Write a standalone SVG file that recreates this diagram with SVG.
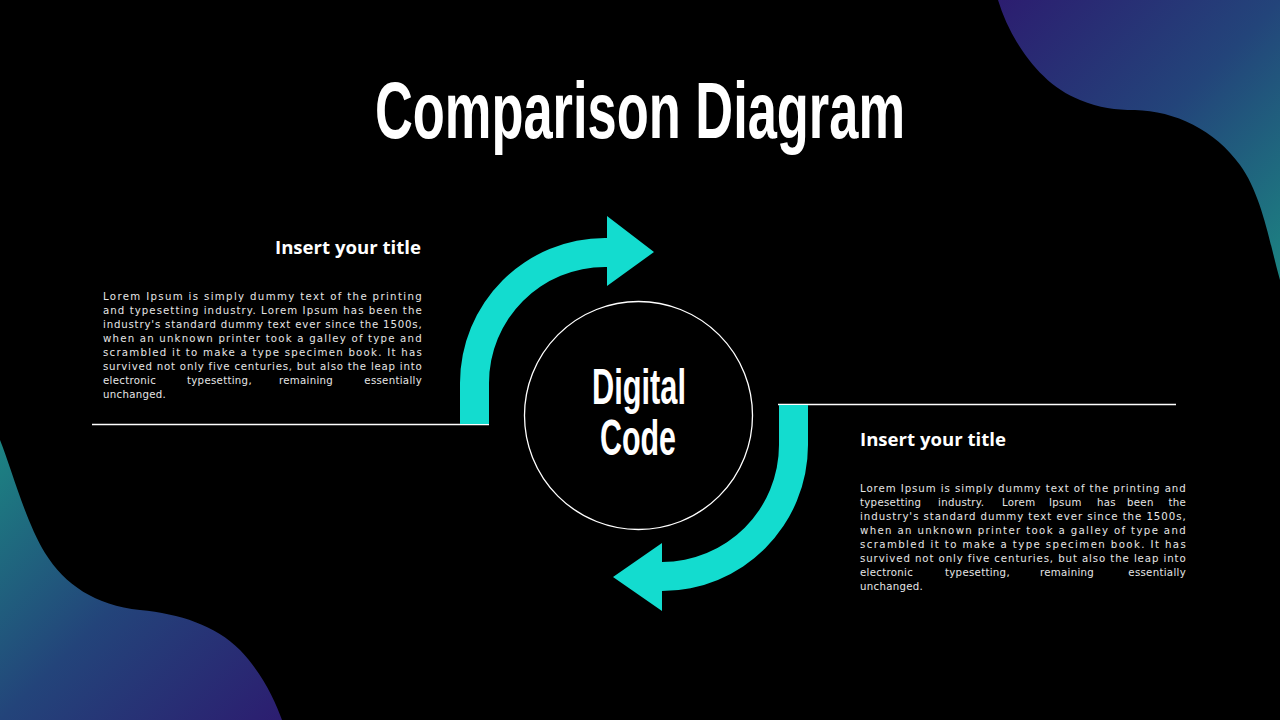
<svg xmlns="http://www.w3.org/2000/svg" width="1280" height="720" viewBox="0 0 1280 720">
  <defs>
    <linearGradient id="gTR" x1="0" y1="0" x2="1" y2="1">
      <stop offset="0" stop-color="#2c1d70"/>
      <stop offset="0.5" stop-color="#23447a"/>
      <stop offset="1" stop-color="#1c8482"/>
    </linearGradient>
    <linearGradient id="gBL" x1="0" y1="0" x2="1" y2="1">
      <stop offset="0" stop-color="#1c8482"/>
      <stop offset="0.5" stop-color="#23447a"/>
      <stop offset="1" stop-color="#2c1d70"/>
    </linearGradient>
    <style>
      .title { font-family: "Liberation Sans", Arial, sans-serif; font-weight: 700; fill: #ffffff; }
      .sub { font-family: "Open Sans", "Liberation Sans", sans-serif; font-weight: 700; font-size: 18.5px; fill: #ffffff; }
      .body { font-family: "DejaVu Sans", "Liberation Sans", sans-serif; font-size: 10.2px; letter-spacing: 0.3px; fill: #e6e6e6; }
      .arrow { fill: #13dccf; }
      .rule { stroke: #ffffff; stroke-width: 1.3; fill: none; }
    </style>
  </defs>
  <rect x="0" y="0" width="1280" height="720" fill="#000000"/>
  <path d="M998,0 C1010,40 1040,85 1080,100 C1100,108 1115,110 1135,110 C1175,111 1215,130 1240,165 C1262,195 1270,245 1280,280 L1280,0 Z" fill="url(#gTR)"/>
  <path d="M0,440 C12,470 25,520 45,553 C65,585 95,605 140,610 C180,614 215,625 240,650 C262,673 275,700 282,720 L0,720 Z" fill="url(#gBL)"/>

  <text class="title" x="640" y="138" font-size="80" text-anchor="middle" textLength="530" lengthAdjust="spacingAndGlyphs">Comparison Diagram</text>

  <g id="connectors">
    <line class="rule" x1="92" y1="424.5" x2="489" y2="424.5"/>
    <line class="rule" x1="778" y1="404.5" x2="1176" y2="404.5"/>
    <path class="arrow" d="M460,424 L460,383 A145,145 0 0 1 605,238 L607,238 L607,216 L654,252 L607,286 L607,267 L605,267 A116,116 0 0 0 489,383 L489,424 Z"/>
    <path class="arrow" d="M808,405 L808,445 A146,146 0 0 1 662,591 L662,611 L613,577 L662,543 L662,562 A117,117 0 0 0 779,445 L779,405 Z"/>
  </g>

  <g id="center-node">
    <circle cx="638.5" cy="415.5" r="114" fill="none" stroke="#ffffff" stroke-width="1.3"/>
    <text class="title" x="639" y="404" font-size="50" text-anchor="middle" textLength="94" lengthAdjust="spacingAndGlyphs">Digital</text>
    <text class="title" x="638" y="455" font-size="50" text-anchor="middle" textLength="76" lengthAdjust="spacingAndGlyphs">Code</text>
  </g>

  <g id="left-node">
    <text class="sub" x="421" y="254" text-anchor="end" textLength="146" lengthAdjust="spacingAndGlyphs">Insert your title</text>
    <text class="body" x="103" y="300" textLength="319" lengthAdjust="spacing">Lorem Ipsum is simply dummy text of the printing</text>
    <text class="body" x="103" y="314" textLength="319" lengthAdjust="spacing">and typesetting industry. Lorem Ipsum has been the</text>
    <text class="body" x="103" y="328" textLength="319" lengthAdjust="spacing">industry's standard dummy text ever since the 1500s,</text>
    <text class="body" x="103" y="342" textLength="319" lengthAdjust="spacing">when an unknown printer took a galley of type and</text>
    <text class="body" x="103" y="356" textLength="319" lengthAdjust="spacing">scrambled it to make a type specimen book. It has</text>
    <text class="body" x="103" y="370" textLength="319" lengthAdjust="spacing">survived not only five centuries, but also the leap into</text>
    <text class="body" y="384"><tspan x="103">electronic</tspan><tspan x="187">typesetting,</tspan><tspan x="279">remaining</tspan><tspan x="422" text-anchor="end">essentially</tspan></text>
    <text class="body" x="103" y="398">unchanged.</text>
  </g>

  <g id="right-node">
    <text class="sub" x="860" y="446" textLength="146" lengthAdjust="spacingAndGlyphs">Insert your title</text>
    <text class="body" x="860" y="492" textLength="326" lengthAdjust="spacing">Lorem Ipsum is simply dummy text of the printing and</text>
    <text class="body" y="506"><tspan x="860">typesetting</tspan><tspan x="938">industry.</tspan><tspan x="1002">Lorem</tspan><tspan x="1049">Ipsum</tspan><tspan x="1097">has</tspan><tspan x="1127">been</tspan><tspan x="1186" text-anchor="end">the</tspan></text>
    <text class="body" x="860" y="520" textLength="326" lengthAdjust="spacing">industry's standard dummy text ever since the 1500s,</text>
    <text class="body" x="860" y="534" textLength="326" lengthAdjust="spacing">when an unknown printer took a galley of type and</text>
    <text class="body" x="860" y="548" textLength="326" lengthAdjust="spacing">scrambled it to make a type specimen book. It has</text>
    <text class="body" x="860" y="562" textLength="326" lengthAdjust="spacing">survived not only five centuries, but also the leap into</text>
    <text class="body" y="576"><tspan x="860">electronic</tspan><tspan x="945">typesetting,</tspan><tspan x="1040">remaining</tspan><tspan x="1186" text-anchor="end">essentially</tspan></text>
    <text class="body" x="860" y="590">unchanged.</text>
  </g>
</svg>
